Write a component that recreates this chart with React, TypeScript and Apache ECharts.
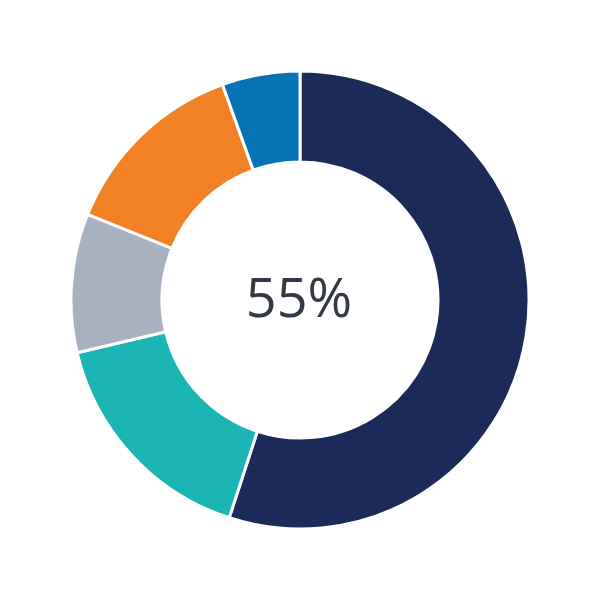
import React, { useEffect, useRef } from "react";
import * as echarts from "echarts";

const categories = ["A", "B", "C", "D", "E"];
const values = [55, 16.3, 9.8, 13.4, 5.5];
const colors = ["#1c2a5a", "#1cb5b6", "#a8b1bf", "#f28024", "#0673b5"];
const centerLabel = "55%";

export default function App() {
  const ref = useRef<HTMLDivElement>(null);
  useEffect(() => {
    if (!ref.current) return;
    const chart = echarts.init(ref.current, null, { renderer: "svg" });
    chart.setOption({
      animation: false,
      backgroundColor: "#ffffff",
      graphic: [
        {
          type: "text",
          x: 299,
          y: 296,
          style: {
            text: centerLabel,
            align: "center",
            verticalAlign: "middle",
            fontFamily: "Open Sans",
            fontSize: 54,
            fontWeight: "normal",
            fill: "#333a45",
          },
        },
      ],
      series: [
        {
          type: "pie",
          center: [300, 300],
          radius: [138, 229],
          startAngle: 90,
          clockwise: true,
          label: { show: false },
          labelLine: { show: false },
          itemStyle: { borderColor: "#ffffff", borderWidth: 3 },
          data: categories.map((c, i) => ({
            name: c,
            value: values[i],
            itemStyle: { color: colors[i] },
          })),
        },
      ],
    });
    return () => chart.dispose();
  }, []);
  return (
    <div
      ref={ref}
      style={{ position: "fixed", left: 0, top: 0, width: 600, height: 600 }}
    />
  );
}
